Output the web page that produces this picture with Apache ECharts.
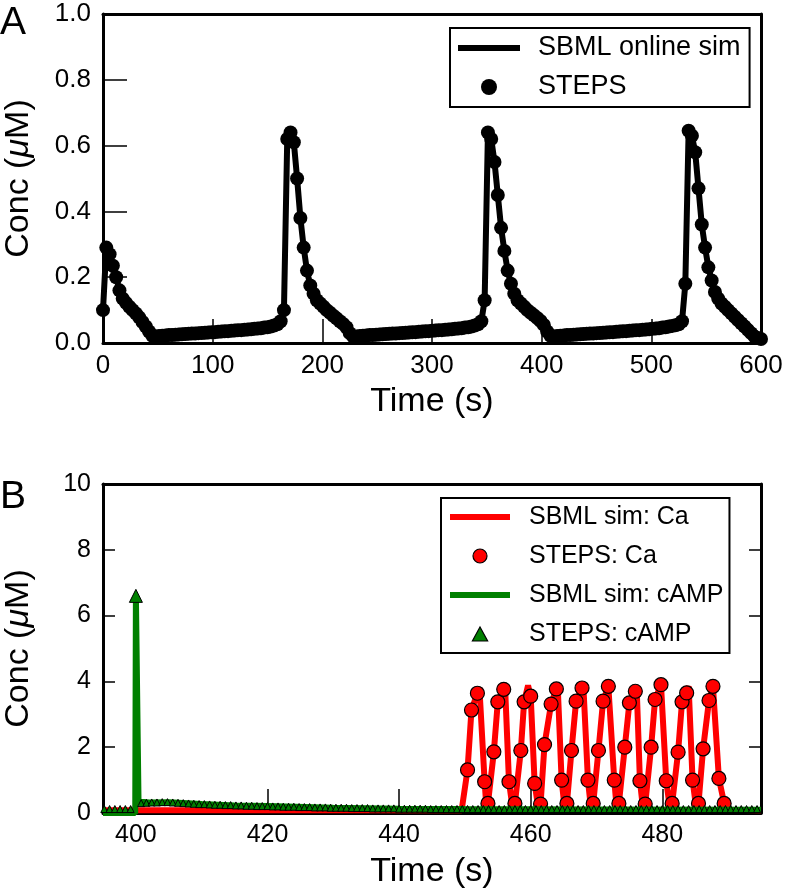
<!DOCTYPE html>
<html><head><meta charset="utf-8">
<script src="https://cdn.jsdelivr.net/npm/echarts@6/dist/echarts.min.js"></script>
<style>html,body{margin:0;padding:0;background:#fff}#c{width:785px;height:894px}</style>
</head><body><div id="c"></div>
<script>
const FONT = '"Liberation Sans", Arial, Helvetica, sans-serif';

// ---------- Panel A ----------
const timeA = [
  0,3,6,9,12,15,18,21,24,27,30,33,36,39,42,45,48,51,54,57,
  60,63,66,69,72,75,78,81,84,87,90,93,96,99,102,105,108,111,114,117,
  120,123,126,129,132,135,138,141,144,147,150,153,156,159,162,165,168,171,174,177,
  180,183,186,189,192,195,198,201,204,207,210,213,216,219,222,225,228,231,234,237,
  240,243,246,249,252,255,258,261,264,267,270,273,276,279,282,285,288,291,294,297,
  300,303,306,309,312,315,318,321,324,327,330,333,336,339,342,345,348,351,354,357,
  360,363,366,369,372,375,378,381,384,387,390,393,396,399,402,405,408,411,414,417,
  420,423,426,429,432,435,438,441,444,447,450,453,456,459,462,465,468,471,474,477,
  480,483,486,489,492,495,498,501,504,507,510,513,516,519,522,525,528,531,534,537,
  540,543,546,549,552,555,558,561,564,567,570,573,576,579,582,585,588,591,594,597,
  600
];
const concA = [
  0.10,0.29,0.27,0.235,0.20,0.16,0.135,0.122,0.11,0.10,0.09,0.078,0.064,0.05,0.035,0.022,0.02,0.021,0.022,0.023,
  0.024,0.0245,0.025,0.026,0.0265,0.027,0.028,0.0285,0.029,0.030,0.0305,0.031,0.032,0.0325,0.033,0.034,0.035,0.0355,0.036,0.037,
  0.038,0.039,0.039,0.040,0.041,0.042,0.043,0.044,0.045,0.047,0.048,0.050,0.053,0.057,0.066,0.10,0.62,0.64,0.61,0.50,
  0.38,0.29,0.22,0.175,0.15,0.13,0.12,0.11,0.10,0.092,0.083,0.075,0.066,0.058,0.048,0.03,0.02,0.02,0.021,0.022,
  0.023,0.024,0.0245,0.025,0.026,0.0265,0.027,0.028,0.0285,0.029,0.030,0.0305,0.031,0.032,0.0325,0.033,0.034,0.035,0.0355,0.036,
  0.037,0.038,0.039,0.039,0.040,0.041,0.042,0.043,0.044,0.045,0.047,0.048,0.050,0.053,0.057,0.066,0.13,0.64,0.62,0.55,
  0.45,0.35,0.28,0.22,0.18,0.15,0.13,0.12,0.11,0.10,0.092,0.084,0.076,0.067,0.055,0.035,0.022,0.02,0.021,0.022,
  0.023,0.024,0.0245,0.025,0.026,0.0265,0.027,0.028,0.0285,0.029,0.030,0.0305,0.031,0.032,0.0325,0.033,0.034,0.035,0.0355,0.036,
  0.037,0.038,0.039,0.039,0.040,0.041,0.042,0.043,0.044,0.045,0.047,0.048,0.050,0.052,0.054,0.057,0.066,0.18,0.645,0.63,
  0.58,0.47,0.36,0.29,0.23,0.19,0.155,0.135,0.12,0.11,0.10,0.09,0.08,0.07,0.06,0.05,0.04,0.03,0.02,0.015,
  0.012
];
const xTicksA = [0,100,200,300,400,500,600];
const yTicksA = [0,0.2,0.4,0.6,0.8,1.0];

// ---------- Panel B ----------
const caStepsB = [
  [450.4,1.31],[451.0,3.13],[451.9,3.64],[453.0,0.95],[453.5,0.29],
  [454.4,1.86],[455.0,3.38],[455.9,3.76],[456.7,0.95],[457.6,0.29],
  [458.5,1.90],[459.0,3.38],[460.0,3.55],[460.6,0.90],[461.5,0.27],
  [462.1,2.08],[463.1,3.31],[463.9,3.77],[464.7,1.00],[465.5,0.29],
  [466.2,1.90],[466.9,3.40],[467.8,3.80],[468.7,1.00],[469.5,0.29],
  [470.3,1.90],[471.0,3.40],[471.8,3.85],[472.7,1.00],[473.4,0.29],
  [474.3,2.00],[475.0,3.35],[475.9,3.70],[476.6,0.98],[477.4,0.27],
  [478.3,2.00],[478.9,3.45],[479.8,3.90],[480.6,0.98],[481.5,0.29],
  [482.4,1.85],[483.0,3.38],[483.7,3.65],[484.6,1.00],[485.5,0.29],
  [486.2,1.95],[487.1,3.42],[487.7,3.85],[488.6,1.05],[489.4,0.29]
];
const caSbmlB = [
  [395,0.08],[449.5,0.08],[450.4,1.31],[451.0,3.13],[451.9,3.64],[452.2,3.82],[453.0,0.95],[453.3,0.08],[453.5,0.29],
  [454.4,1.86],[455.0,3.38],[455.9,3.76],[456.1,3.86],[456.7,0.95],[457.3,0.08],[457.6,0.29],
  [458.5,1.90],[459.0,3.38],[459.6,3.88],[460.0,3.55],[460.6,0.90],[461.2,0.08],[461.5,0.27],
  [462.1,2.08],[463.1,3.31],[463.9,3.77],[464.1,3.87],[464.7,1.00],[465.2,0.08],[465.5,0.29],
  [466.2,1.90],[466.9,3.40],[467.8,3.80],[468.0,3.88],[468.7,1.00],[469.2,0.08],[469.5,0.29],
  [470.3,1.90],[471.0,3.40],[471.8,3.85],[472.0,3.90],[472.7,1.00],[473.1,0.08],[473.4,0.29],
  [474.3,2.00],[475.0,3.35],[475.9,3.70],[476.1,3.84],[476.6,0.98],[477.1,0.08],[477.4,0.27],
  [478.3,2.00],[478.9,3.45],[479.8,3.90],[480.0,3.93],[480.6,0.98],[481.2,0.08],[481.5,0.29],
  [482.4,1.85],[483.0,3.38],[483.7,3.65],[484.0,3.86],[484.6,1.00],[485.2,0.08],[485.5,0.29],
  [486.2,1.95],[487.1,3.42],[487.7,3.85],[487.9,3.90],[488.6,1.05],[489.4,0.29],[490.2,0.10],[495,0.08]
];
const campTimesB = [
  395.2,396.0,396.8,397.6,398.4,399.2,400.0,400.8,401.6,402.4,403.2,404.0,404.8,405.6,406.4,407.2,408.0,408.8,409.6,410.4,
  411.2,412.0,412.8,413.6,414.4,415.2,416.0,416.8,417.6,418.4,419.2,420.0,420.8,421.6,422.4,423.2,424.0,424.8,425.6,426.4,
  427.2,428.0,428.8,429.6,430.4,431.2,432.0,432.8,433.6,434.4,435.2,436.0,436.8,437.6,438.4,439.2,440.0,440.8,441.6,442.4,
  443.2,444.0,444.8,445.6,446.4,447.2,448.0,448.8,449.6,450.4,451.2,452.0,452.8,453.6,454.4,455.2,456.0,456.8,457.6,458.4,
  459.2,460.0,460.8,461.6,462.4,463.2,464.0,464.8,465.6,466.4,467.2,468.0,468.8,469.6,470.4,471.2,472.0,472.8,473.6,474.4,
  475.2,476.0,476.8,477.6,478.4,479.2,480.0,480.8,481.6,482.4,483.2,484.0,484.8,485.6,486.4,487.2,488.0,488.8,489.6,490.4,
  491.2,492.0,492.8,493.6,494.4
];
const campStepsB = [
  0.12,0.12,0.12,0.12,0.12,0.12,6.6,0.30,0.31,0.32,0.32,0.33,0.33,0.32,0.31,0.30,0.29,0.28,0.27,0.27,
  0.26,0.25,0.25,0.24,0.24,0.23,0.23,0.22,0.22,0.21,0.21,0.21,0.20,0.20,0.19,0.19,0.19,0.18,0.18,0.18,
  0.17,0.17,0.17,0.16,0.16,0.16,0.16,0.15,0.15,0.15,0.15,0.14,0.14,0.14,0.14,0.14,0.13,0.13,0.13,0.13,
  0.13,0.13,0.12,0.12,0.12,0.12,0.12,0.12,0.12,0.12,0.12,0.12,0.12,0.12,0.12,0.12,0.12,0.12,0.12,0.12,
  0.12,0.12,0.12,0.12,0.12,0.12,0.12,0.12,0.12,0.12,0.12,0.12,0.12,0.12,0.12,0.12,0.12,0.12,0.12,0.12,
  0.12,0.12,0.12,0.12,0.12,0.12,0.12,0.12,0.12,0.12,0.12,0.12,0.12,0.12,0.12,0.12,0.12,0.12,0.12,0.12,
  0.12,0.12,0.12,0.12,0.12
];
const campSbmlB = [
  [395,0.0],[399.9,0.0],[400.0,6.6],[400.4,0.35],[402,0.32],[405,0.33],[410,0.27],[415,0.23],
  [420,0.21],[430,0.16],[440,0.13],[450,0.12],[470,0.11],[495,0.10]
];
const xTicksB = [400,420,440,460,480];
const yTicksB = [0,2,4,6,8,10];

// ---------- build ----------
const dataA = timeA.map((t, i) => [t, concA[i]]);
const campStepsData = campTimesB.map((t, i) => [t, campStepsB[i]]);

const TICKSTYLE = {color: '#000', width: 1.5};
function axline() { return {show: true, onZero: false, lineStyle: {color: '#000', width: 3}}; }

// main axes: line + labels (no ticks)
function xMain(grid, pos, min, max, fs, ticks) {
  const a = {
    type: 'value', gridIndex: grid, position: pos, min: min, max: max,
    axisLine: axline(), axisTick: {show: false}, splitLine: {show: false},
    axisLabel: {show: pos === 'bottom', color: '#000', fontSize: fs, fontFamily: FONT, margin: 10, customValues: ticks}
  };
  if (pos === 'bottom') {
    a.name = 'Time (s)'; a.nameLocation = 'middle'; a.nameGap = 42;
    a.nameTextStyle = {color: '#000', fontSize: 34, fontFamily: FONT};
  }
  return a;
}
function yMain(grid, pos, min, max, fs, ticks, fmt) {
  const a = {
    type: 'value', gridIndex: grid, position: pos, min: min, max: max,
    axisLine: axline(), axisTick: {show: false}, splitLine: {show: false},
    axisLabel: {show: pos === 'left', color: '#000', fontSize: fs, fontFamily: FONT, margin: 12,
      customValues: ticks, formatter: fmt}
  };
  if (pos === 'left') {
    a.name = 'Conc ({i|μ}M)'; a.nameLocation = 'middle'; a.nameGap = 67;
    a.nameTextStyle = {color: '#000', fontSize: 34, fontFamily: FONT,
      rich: {i: {fontStyle: 'italic', fontSize: 34, fontFamily: FONT, color: '#000'}}};
  }
  return a;
}
// tick-only axes shifted 12px into the plot, with outward ticks -> inward-pointing ticks on the frame
function tickAxis(grid, pos, min, max, ticks) {
  return {
    type: 'value', gridIndex: grid, position: pos, offset: -12, min: min, max: max,
    axisLine: {show: false}, axisLabel: {show: false}, splitLine: {show: false},
    axisTick: {show: true, inside: false, length: 12, lineStyle: TICKSTYLE, customValues: ticks}
  };
}

const option = {
  animation: false,
  backgroundColor: '#fff',
  textStyle: {fontFamily: FONT},
  title: [
    {text: 'A', left: 0, top: 4, padding: 0, textStyle: {fontSize: 39, fontWeight: 'normal', fontFamily: FONT, color: '#000'}},
    {text: 'B', left: 0, top: 478, padding: 0, textStyle: {fontSize: 39, fontWeight: 'normal', fontFamily: FONT, color: '#000'}}
  ],
  grid: [
    {left: 103, top: 14, width: 658, height: 329, containLabel: false, outerBoundsMode: 'none'},
    {left: 103, top: 484, width: 658, height: 329, containLabel: false, outerBoundsMode: 'none'}
  ],
  xAxis: [
    xMain(0, 'bottom', 0, 600, 26, xTicksA),        // 0
    xMain(0, 'top', 0, 600, 26, xTicksA),           // 1
    tickAxis(0, 'bottom', 0, 600, xTicksA),         // 2
    tickAxis(0, 'top', 0, 600, xTicksA),            // 3
    xMain(1, 'bottom', 395, 495, 25, xTicksB),      // 4
    xMain(1, 'top', 395, 495, 25, xTicksB),         // 5
    tickAxis(1, 'bottom', 395, 495, xTicksB),       // 6
    tickAxis(1, 'top', 395, 495, xTicksB)           // 7
  ],
  yAxis: [
    yMain(0, 'left', 0, 1, 26, yTicksA, v => v.toFixed(1)),   // 0
    yMain(0, 'right', 0, 1, 26, yTicksA, v => v.toFixed(1)),  // 1
    tickAxis(0, 'left', 0, 1, yTicksA),                       // 2
    tickAxis(0, 'right', 0, 1, yTicksA),                      // 3
    yMain(1, 'left', 0, 10, 25, yTicksB, v => String(v)),     // 4
    yMain(1, 'right', 0, 10, 25, yTicksB, v => String(v)),    // 5
    tickAxis(1, 'left', 0, 10, yTicksB),                      // 6
    tickAxis(1, 'right', 0, 10, yTicksB)                      // 7
  ],
  legend: [
    {
      orient: 'vertical', left: 450, top: 28, padding: [5, 9, 5, 5],
      itemWidth: 62, itemHeight: 16, itemGap: 9,
      backgroundColor: '#fff', borderColor: '#000', borderWidth: 2, borderRadius: 0,
      selectedMode: false,
      textStyle: {fontSize: 27, fontFamily: FONT, color: '#000', lineHeight: 30, padding: [0, 0, 0, 13]},
      data: [
        {name: 'SBML online sim', itemStyle: {opacity: 0}, lineStyle: {width: 6, color: '#000'}},
        {name: 'STEPS', itemStyle: {color: '#000', borderWidth: 0, opacity: 1}}
      ]
    },
    {
      orient: 'vertical', left: 441, top: 498, padding: [4, 6, 4, 6],
      itemWidth: 60, itemHeight: 14, itemGap: 9,
      backgroundColor: '#fff', borderColor: '#000', borderWidth: 2, borderRadius: 0,
      selectedMode: false,
      textStyle: {fontSize: 25, fontFamily: FONT, color: '#000', lineHeight: 30, padding: [0, 0, 0, 14]},
      data: [
        {name: 'SBML sim: Ca', itemStyle: {opacity: 0}, lineStyle: {width: 6, color: '#ff0000'}},
        {name: 'STEPS: Ca', itemStyle: {color: '#ff0000', borderColor: '#000', borderWidth: 1.2, opacity: 1}},
        {name: 'SBML sim: cAMP', itemStyle: {opacity: 0}, lineStyle: {width: 6, color: '#008000'}},
        {name: 'STEPS: cAMP', icon: 'path://M0,11L6,0L12,11Z',
          itemStyle: {color: '#008000', borderColor: '#000', borderWidth: 1.2, opacity: 1}}
      ]
    }
  ],
  series: [
    {type: 'line', name: 'SBML online sim', xAxisIndex: 0, yAxisIndex: 0, data: dataA,
      symbol: 'none', lineStyle: {color: '#000', width: 6}, itemStyle: {color: '#000'}, z: 2},
    {type: 'scatter', name: 'STEPS', xAxisIndex: 0, yAxisIndex: 0, data: dataA,
      symbol: 'circle', symbolSize: 14, itemStyle: {color: '#000', opacity: 1}, z: 3},

    {type: 'line', name: 'SBML sim: Ca', xAxisIndex: 4, yAxisIndex: 4, data: caSbmlB,
      symbol: 'none', lineStyle: {color: '#ff0000', width: 6}, itemStyle: {color: '#ff0000'}, z: 2},
    {type: 'scatter', name: 'STEPS: Ca', xAxisIndex: 4, yAxisIndex: 4, data: caStepsB,
      symbol: 'circle', symbolSize: 14,
      itemStyle: {color: '#ff0000', borderColor: '#000', borderWidth: 1.2, opacity: 1}, z: 3},
    {type: 'line', name: 'SBML sim: cAMP', xAxisIndex: 4, yAxisIndex: 4, data: campSbmlB,
      symbol: 'none', lineStyle: {color: '#008000', width: 6}, itemStyle: {color: '#008000'}, z: 4},
    {type: 'scatter', name: 'STEPS: cAMP', xAxisIndex: 4, yAxisIndex: 4, data: campStepsData,
      symbol: 'triangle', symbolSize: v => (v[1] > 1 ? 13 : 7),
      itemStyle: {color: '#008000', borderColor: '#000', borderWidth: 1, opacity: 1}, z: 5}
  ]
};

const chart = echarts.init(document.getElementById('c'), null, {renderer: 'canvas'});
chart.setOption(option);
</script>
</body></html>
